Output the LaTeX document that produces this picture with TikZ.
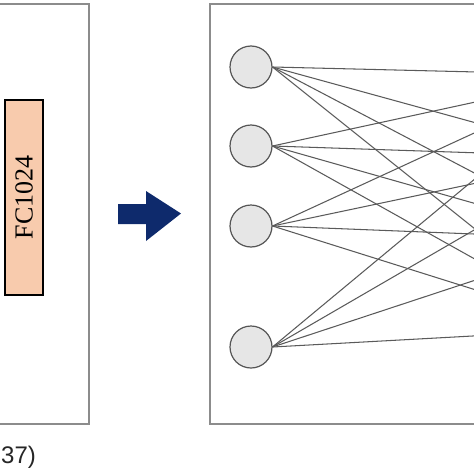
\documentclass[tikz,border=0pt]{standalone}
\usepackage{fontspec}
\setmainfont{Liberation Serif}
\newfontfamily\labelsans{Liberation Sans}
\definecolor{boxgray}{HTML}{8C8C8C}
\definecolor{fcpeach}{HTML}{F8CBAD}
\definecolor{navy}{HTML}{0E2A6C}
\definecolor{nodefill}{HTML}{E6E6E6}
\definecolor{nodeedge}{HTML}{555555}
\definecolor{linkgray}{HTML}{5A5A5A}
\tikzset{
  panel/.style={draw=boxgray, line width=1.8pt},
  fcbox/.style={draw=black, line width=1.3pt, fill=fcpeach, minimum width=38pt, minimum height=195pt, inner sep=0pt},
  neuron/.style={circle, draw=nodeedge, fill=nodefill, line width=1.2pt, minimum size=42pt, inner sep=0pt},
  link/.style={draw=linkgray, line width=1.05pt},
  bigarrow/.style={fill=navy, draw=none}
}
\begin{document}
\begin{tikzpicture}[x=1pt,y=-1pt]
\useasboundingbox (0,0) rectangle (474,474);
\clip (0,0) rectangle (474,474);
% panels
\draw[panel] (-20,4) rectangle (89,424);
\draw[panel] (210,4) rectangle (500,424);
% FC box
\node[fcbox] (fc) at (24,197.5) {};
\node[rotate=90, font=\fontsize{26}{26}\selectfont, inner sep=0pt] (fctext) at (fc.center) {FC1024};
% arrow
\fill[bigarrow] (118,204) -- (146,204) -- (146,191) -- (181,213.5) -- (146,241) -- (146,224) -- (118,224) -- cycle;
% right-layer targets outside the view
\coordinate (r1) at (600,75);
\coordinate (r2) at (600,157);
\coordinate (r3) at (600,239);
\coordinate (r4) at (600,329);
% links
\foreach \i/\y in {1/67,2/146,3/226,4/347}{
  \coordinate (s\i) at (272.5,\y);
  \foreach \j in {1,2,3,4}{
    \draw[link] (s\i) -- (r\j);
  }
}
% neurons
\node[neuron] (n1) at (251,67) {};
\node[neuron] (n2) at (251,146) {};
\node[neuron] (n3) at (251,226) {};
\node[neuron] (n4) at (251,347) {};
% caption fragment
\node[anchor=base west, font=\labelsans\fontsize{24}{24}\selectfont, text=black!85, inner sep=0pt] (cap) at (1,463) {37)};
\end{tikzpicture}
\end{document}
